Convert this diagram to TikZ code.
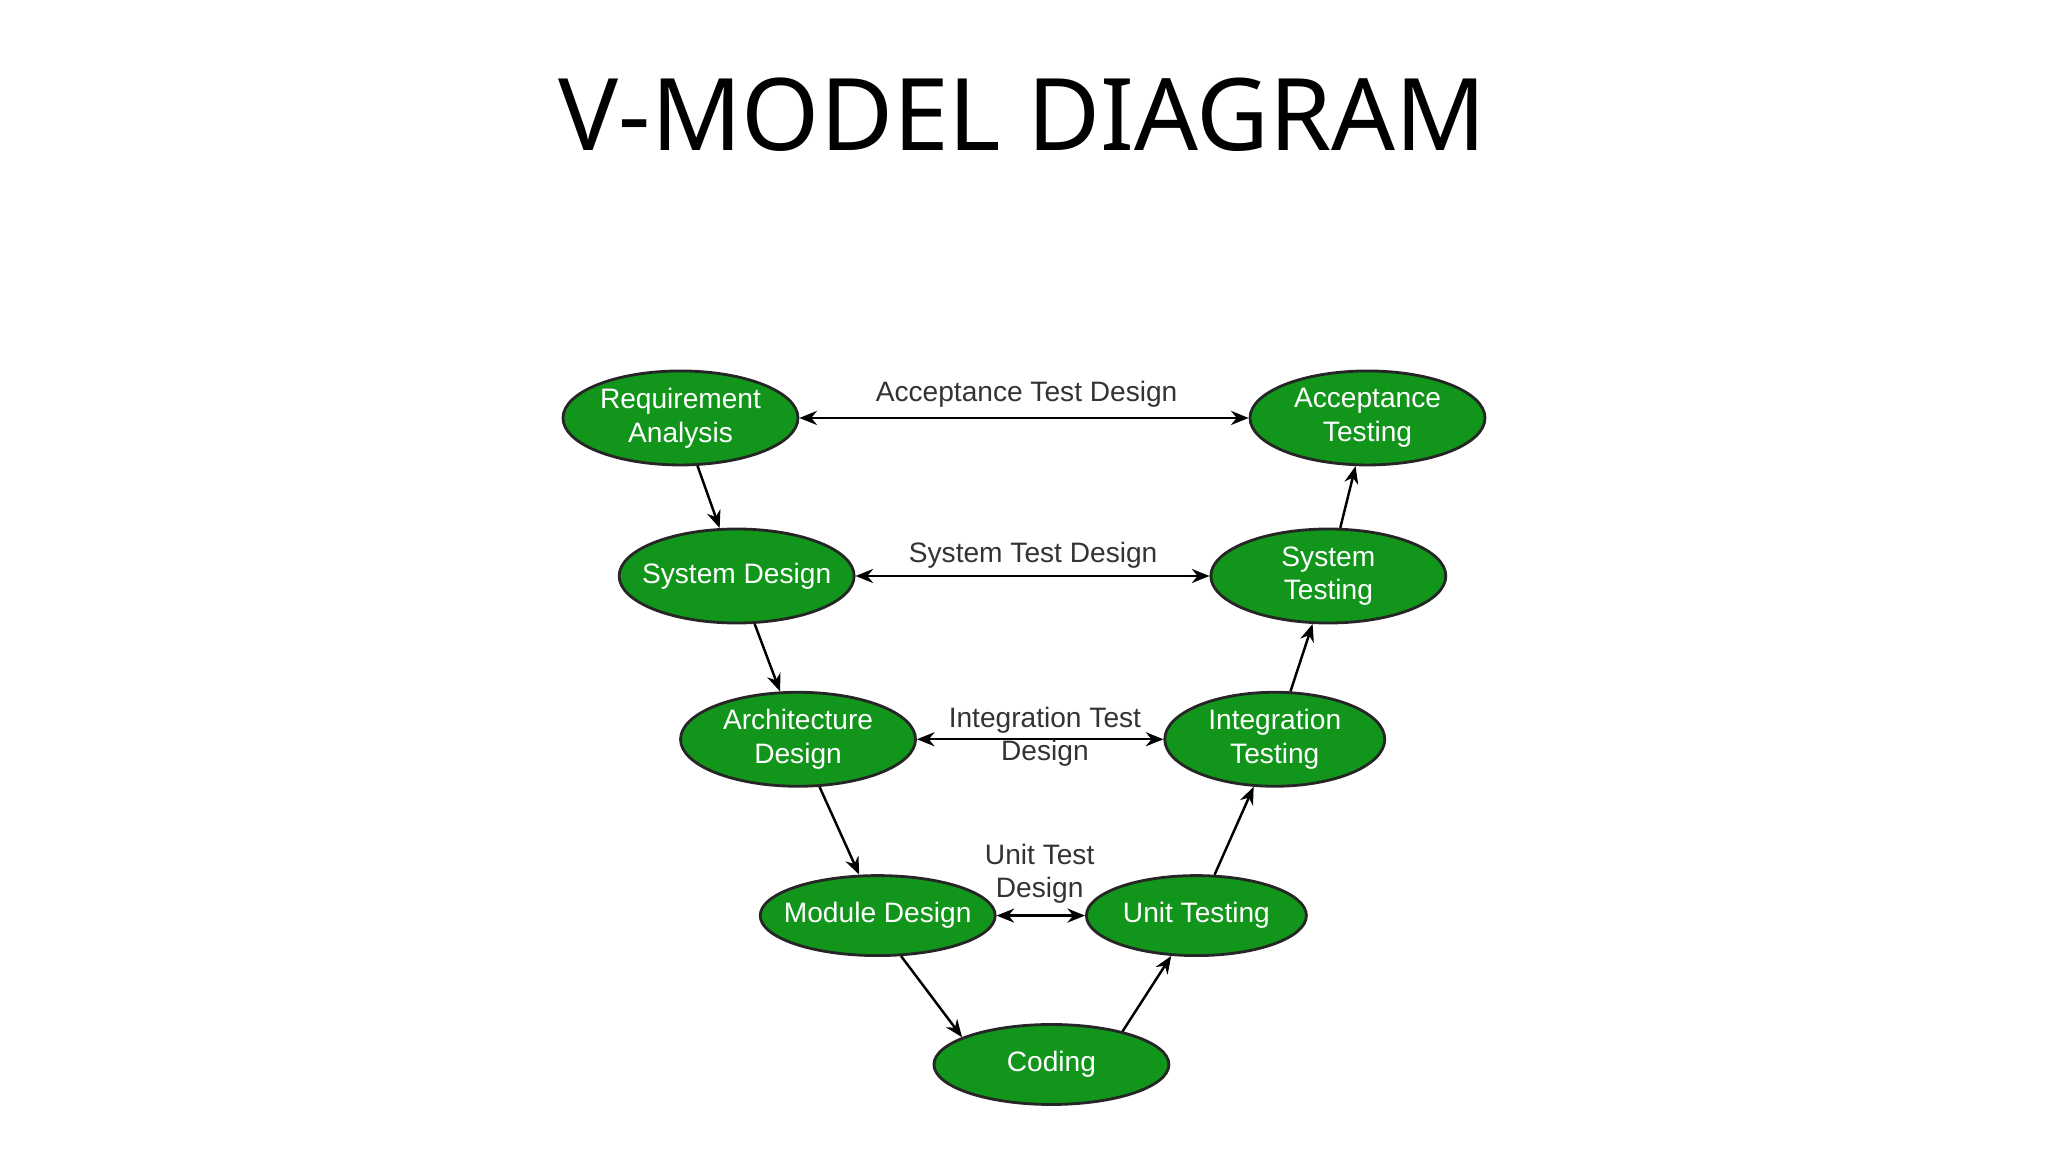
\documentclass[tikz,border=0pt]{standalone}
\usepackage{fontspec}
\setmainfont{Liberation Sans}
\newfontfamily\titlefont{Noto Sans}
\usetikzlibrary{shapes.geometric,arrows.meta}
\definecolor{vgreen}{HTML}{11951A}
\tikzset{
  phase/.style={ellipse,draw=black!85,line width=0.8pt,fill=vgreen,text=white,
    minimum width=2.35cm,minimum height=0.94cm,inner sep=0pt,align=center,
    font=\fontsize{8}{9.6}\selectfont},
  flat/.style={minimum height=0.8cm,inner xsep=-7pt},
  link/.style={-{Stealth[length=5pt,width=4pt]},line width=0.7pt},
  both/.style={{Stealth[length=5pt,width=4pt]}-{Stealth[length=5pt,width=4pt]},line width=0.7pt},
  lbl/.style={text=black!80,align=center,font=\fontsize{8}{9.6}\selectfont}
}
\begin{document}
\begin{tikzpicture}[x=0.01306cm,y=-0.01306cm]
  \useasboundingbox (0,0) rectangle (1568,882);
  \node[font=\titlefont\fontsize{28.5}{34}\selectfont] (title) at (783,88) {V-MODEL DIAGRAM};
  % left side
  \node[phase] (req) at (521,320) {Requirement\\Analysis};
  \node[phase,inner xsep=-7pt] (sysd) at (564,441) {System Design};
  \node[phase] (arch) at (611,566) {Architecture\\Design};
  \node[phase,flat] (mod) at (672,701) {Module Design};
  \node[phase,flat] (code) at (805,815) {Coding};
  % right side
  \node[phase] (acc) at (1047,320) {Acceptance\\Testing};
  \node[phase] (syst) at (1017,441) {System\\Testing};
  \node[phase,minimum width=2.2cm] (integ) at (976,566) {Integration\\Testing};
  \node[phase,flat,minimum width=2.2cm] (unit) at (916,701) {Unit Testing};
  % down and up
  \draw[link] (req) -- (sysd);
  \draw[link] (sysd) -- (arch);
  \draw[link] (arch) -- (mod);
  \draw[link] (mod.-60) -- (code.163);
  \draw[link] (code.25) -- (unit.-122);
  \draw[link] (unit) -- (integ);
  \draw[link] (integ) -- (syst);
  \draw[link] (syst) -- (acc);
  % test design
  \draw[both] (req) -- (acc);
  \draw[both] (sysd) -- (syst);
  \draw[both] (arch) -- (integ);
  \draw[both] (mod) -- (unit);
  \node[lbl] (l1) at (786,302) {Acceptance Test Design};
  \node[lbl] (l2) at (791,425) {System Test Design};
  \node[lbl] (l3) at (800,564) {Integration Test\\Design};
  \node[lbl] (l4) at (796,669) {Unit Test\\Design};
\end{tikzpicture}
\end{document}
